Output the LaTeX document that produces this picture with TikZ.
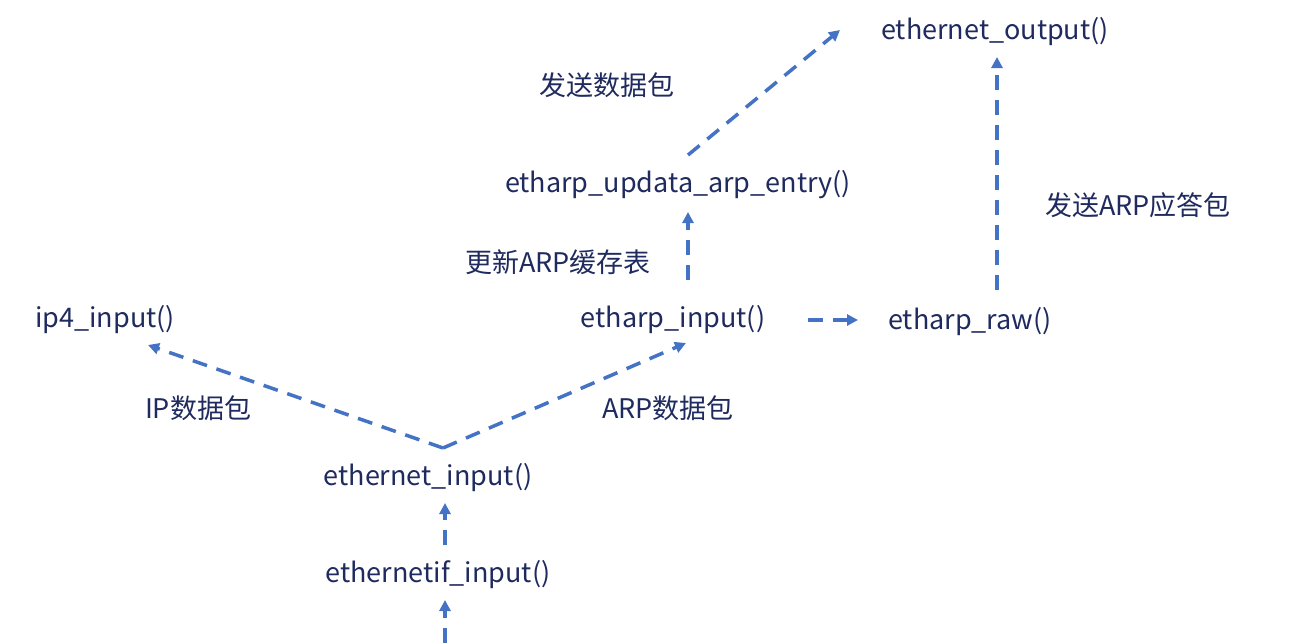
\documentclass[tikz,border=0pt]{standalone}
\usepackage{fontspec}
\setmainfont{Noto Sans CJK SC}
\usetikzlibrary{arrows.meta}
\definecolor{txt}{HTML}{1F2A5E}
\definecolor{ln}{HTML}{4472C4}
\begin{document}
\begin{tikzpicture}[x=1pt,y=-1pt,
  lbl/.style={text=txt,font=\fontsize{27}{30}\selectfont,inner sep=0pt},
  arr/.style={draw=ln,line width=3.5pt,dash pattern=on 15pt off 10pt,-{Triangle[length=11pt,width=11pt]}}]
\useasboundingbox (0,0) rectangle (1303,643);
\node[lbl] (eo) at (995,32) {ethernet\_output()};
\node[lbl] (s1) at (607,85) {发送数据包};
\node[lbl] (eu) at (678,185) {etharp\_updata\_arp\_entry()};
\node[lbl] (s2) at (1138,205) {发送ARP应答包};
\node[lbl] (s3) at (558,262) {更新ARP缓存表};
\node[lbl] (ip) at (105,320) {ip4\_input()};
\node[lbl] (ei) at (673,320) {etharp\_input()};
\node[lbl] (er) at (970,322) {etharp\_raw()};
\node[lbl] (s4) at (198,408) {IP数据包};
\node[lbl] (s5) at (668,408) {ARP数据包};
\node[lbl] (en) at (428,478) {ethernet\_input()};
\node[lbl] (ef) at (438,575) {ethernetif\_input()};
\coordinate (bot) at (445,643);
\coordinate (j) at (443,448);
\coordinate (a1) at (445,600);
\coordinate (a2) at (445,545);
\coordinate (a3) at (445,503);
\coordinate (ipt) at (148,345);
\coordinate (eit) at (686,343);
\coordinate (eub) at (688,280);
\coordinate (eut) at (688,212);
\coordinate (eus) at (688,155);
\coordinate (eot) at (840,30);
\coordinate (erb) at (997,290);
\coordinate (eob) at (997,57);
\coordinate (eir) at (808,320);
\coordinate (erl) at (858,320);
\draw[arr] (bot) -- (a1);
\draw[arr] (a2) -- (a3);
\draw[arr] (j) -- (ipt);
\draw[arr] (j) -- (eit);
\draw[arr] (eub) -- (eut);
\draw[arr] (eus) -- (eot);
\draw[arr] (erb) -- (eob);
\draw[arr] (eir) -- (erl);
\end{tikzpicture}
\end{document}
